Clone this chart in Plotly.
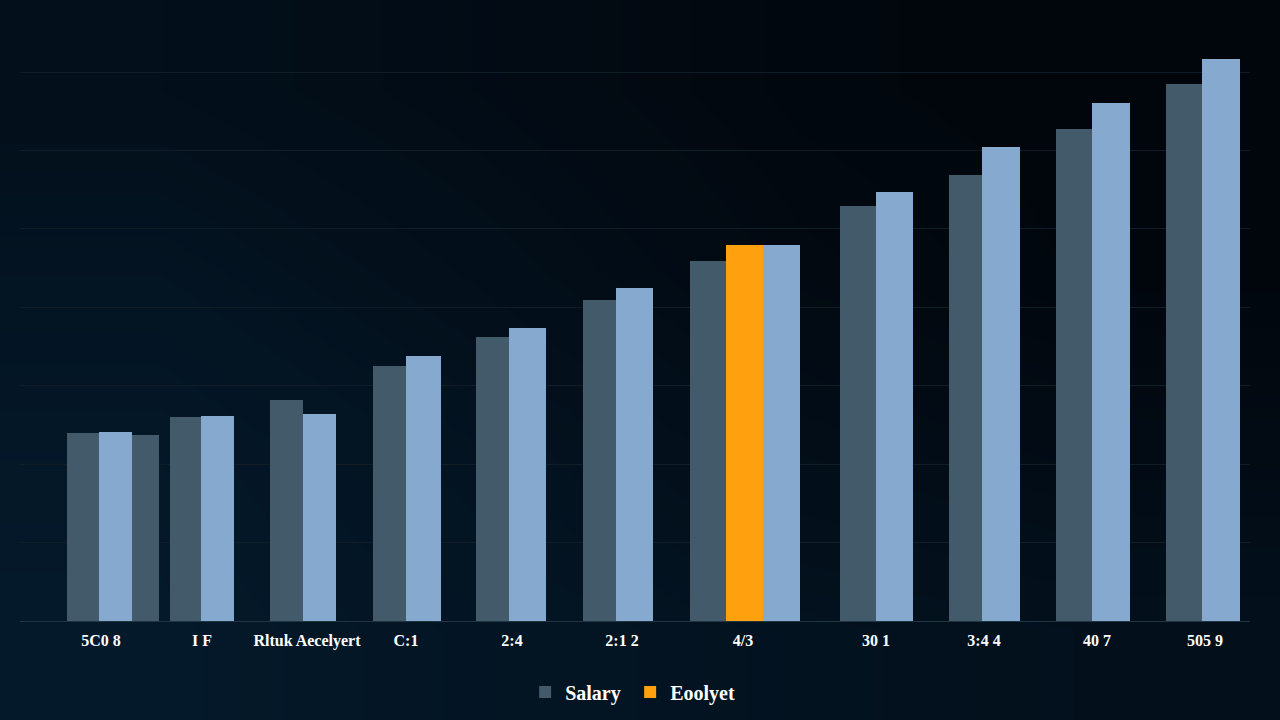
import plotly.graph_objects as go

# Values
tick_labels = ['5C0 8', 'I F', 'Rltuk Aecelyert', 'C:1', '2:4', '2:1 2', '4/3', '30 1', '3:4 4', '40 7', '505 9']
tick_x = [101, 202, 307, 406, 512, 622, 743, 876, 984, 1097, 1205]

salary_x = [67, 170, 270, 373, 476, 583, 690, 840, 949, 1056, 1166]
salary = [240, 260, 282, 325, 362, 409, 459, 529, 569, 628, 685]
salary_w = [32, 31, 33, 33, 33, 33, 36, 36, 33, 36, 36]

other_x = [99, 201, 303, 406, 509, 616, 763, 876, 982, 1092, 1202]
other = [241, 261, 264, 338, 374, 425, 480, 547, 605, 661, 717]
other_w = [33, 33, 33, 35, 37, 37, 37, 37, 38, 38, 38]

extra_x = [132]
extra = [237]
extra_w = [27]

highlight_x = [726]
highlight = [480]
highlight_w = [37]

# Coarse read of the page background, top row first (0 = near black, 1 = dark teal)
bg_shade = [
    [0.50, 0.32, 0.10, 0.02],
    [0.72, 0.48, 0.20, 0.05],
    [0.92, 0.68, 0.42, 0.28],
    [1.00, 0.80, 0.65, 0.55],
]

DARK = '#425a6a'
LIGHT = '#85a9cf'
ORANGE = '#ffa00f'
GRID = '#101c26'
FONT = 'Liberation Serif'

fig = go.Figure()

fig.add_trace(go.Heatmap(
    z=bg_shade[::-1], zsmooth='best', showscale=False, hoverinfo='skip', zmin=0, zmax=1,
    colorscale=[[0, '#01050b'], [1, '#04192a']], xaxis='x', yaxis='y', showlegend=False
))

fig.add_trace(go.Bar(x=salary_x, y=salary, width=salary_w, offset=0, name='Salary',
                     marker=dict(color=DARK, line=dict(width=0)), xaxis='x2', yaxis='y2'))
fig.add_trace(go.Bar(x=other_x, y=other, width=other_w, offset=0, name='Other', showlegend=False,
                     marker=dict(color=LIGHT, line=dict(width=0)), xaxis='x2', yaxis='y2'))
fig.add_trace(go.Bar(x=extra_x, y=extra, width=extra_w, offset=0, name='Salary', showlegend=False,
                     marker=dict(color=DARK, line=dict(width=0)), xaxis='x2', yaxis='y2'))
fig.add_trace(go.Bar(x=highlight_x, y=highlight, width=highlight_w, offset=0, name='Eoolyet',
                     marker=dict(color=ORANGE, line=dict(width=0)), xaxis='x2', yaxis='y2'))

fig.update_layout(
    width=1280, height=720, autosize=False,
    margin=dict(l=0, r=0, t=0, b=0),
    paper_bgcolor='#03101c', plot_bgcolor='rgba(0,0,0,0)',
    barmode='overlay', bargap=0,
    font=dict(family=FONT, color='white', size=16),
    xaxis=dict(domain=[0, 1], visible=False, fixedrange=True),
    yaxis=dict(domain=[0, 1], visible=False, fixedrange=True),
    xaxis2=dict(domain=[20 / 1280, 1250 / 1280], range=[20, 1250], anchor='y2',
                tickmode='array', tickvals=tick_x, ticktext=tick_labels,
                tickfont=dict(family=FONT, size=16, color='white', weight='bold'),
                showgrid=False, zeroline=False, showline=True, linecolor='#1f3541', linewidth=1,
                ticks='', ticklabelstandoff=5),
    yaxis2=dict(domain=[99 / 720, 680 / 720], range=[0, 741], anchor='x2',
                dtick=100, showticklabels=False, ticks='',
                showgrid=True, gridcolor=GRID, gridwidth=1, zeroline=False),
    legend=dict(orientation='h', x=0.4923, y=0.039, xanchor='center', yanchor='middle',
                bgcolor='rgba(0,0,0,0)', traceorder='normal', entrywidth=60,
                font=dict(family=FONT, size=20, color='white', weight='bold')),
)

# page margin would leave a white edge around the fixed-size figure
fig.write_html("out.html", config={'displayModeBar': False},
               post_script="document.body.style.margin = '0';")
